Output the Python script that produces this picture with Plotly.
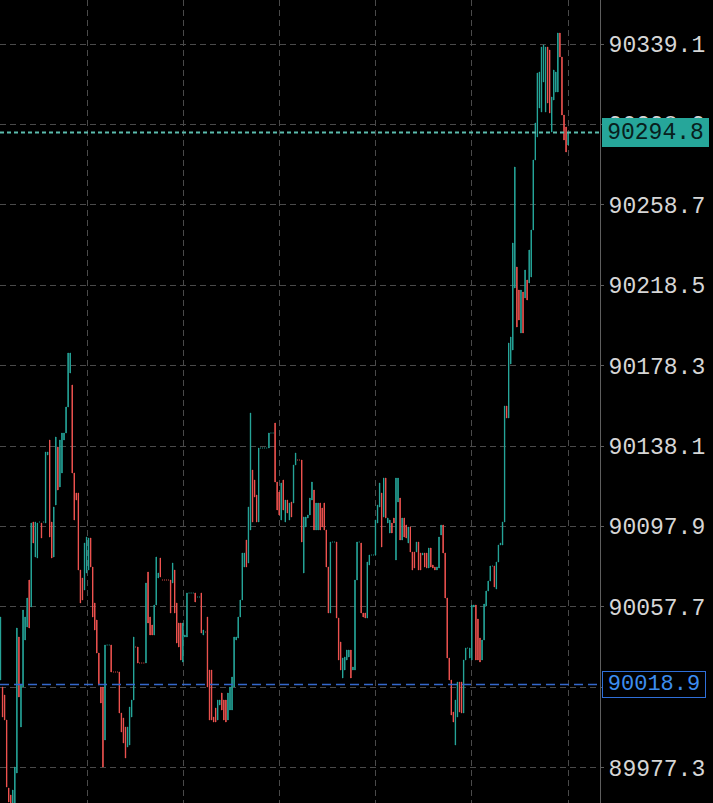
import plotly.graph_objects as go

# ---- data ----
OPEN = [
    90021.1, 90017.6, 90013.6, 90001.1, 89967.1, 89963.6, 89955.1, 89958.6, 89974.6, 90042.6,
    89997.6, 90017.6, 90041.1, 90047.6, 90071.1, 90057.6, 90100.1, 90082.6, 90082.1, 90100.1,
    90099.6, 90100.1, 90099.6, 90133.6, 90141.1, 90100.1, 90082.6, 90108.6, 90137.6, 90117.6,
    90124.6, 90141.1, 90144.6, 90157.6, 90174.6, 90168.6, 90124.6, 90114.6, 90114.6, 90076.1,
    90072.1, 90066.1, 90074.6, 90076.1, 90092.1, 90077.6, 90059.6, 90051.1, 90034.6, 90017.6,
    90017.6, 89991.1, 90038.6, 90038.6, 90038.6, 90025.1, 90025.1, 90025.1, 90025.1, 90004.6,
    90002.1, 89997.6, 89987.6, 89988.6, 90002.6, 90011.1, 90037.6, 90037.6, 90029.6, 90029.6,
    90029.6, 90029.6, 90075.1, 90052.6, 90048.6, 90043.6, 90058.6, 90072.1, 90082.1, 90071.1,
    90071.1, 90071.1, 90071.1, 90071.1, 90069.6, 90076.1, 90059.6, 90049.6, 90049.6, 90030.1,
    90042.6, 90042.6, 90064.6, 90064.6, 90064.6, 90064.6, 90062.6, 90062.6, 90064.6, 90043.6,
    90045.1,
    90052.6, 90026.1, 90026.1, 90002.6, 90007.1, 90001.1, 90008.6, 90014.6, 90011.1, 90011.1,
    90001.1, 90006.1, 90006.1, 90017.6, 90041.1, 90042.1, 90052.6, 90061.1, 90077.6, 90091.1,
    90079.6, 90096.1, 90126.1, 90121.1, 90113.6, 90100.1, 90137.1, 90137.1, 90137.1, 90137.1,
    90137.1, 90144.6, 90144.6, 90149.6, 90120.1, 90115.1, 90101.1, 90121.1, 90100.1, 90111.1,
    90101.1, 90110.1, 90109.6, 90128.6, 90131.1, 90131.1, 90131.1, 90074.6, 90097.6, 90102.1,
    90103.6, 90111.1, 90116.1, 90096.1, 90096.1, 90109.6, 90107.1, 90109.6, 90096.1, 90077.6,
    90054.6, 90090.1, 90090.1, 90090.1, 90052.1, 90040.1, 90022.1, 90026.1, 90031.1, 90032.6,
    90036.1, 90026.1, 90026.1, 90071.1, 90090.1, 90089.6, 90054.6, 90054.6, 90052.1, 90078.6,
    90083.6, 90083.6, 90083.6, 90099.6, 90107.6, 90114.6, 90102.6, 90122.1, 90099.6, 90094.6,
    90099.6, 90102.1, 90081.1, 90110.1, 90112.1, 90091.1, 90102.1, 90098.6, 90089.6, 90097.6,
    90085.1, 90085.1, 90085.1, 90090.1, 90084.6, 90083.6, 90084.6, 90084.6, 90077.1, 90087.1,
    90078.6, 90077.6, 90076.1, 90077.1, 90093.6, 90098.6, 90084.6, 90062.1, 90032.1, 90021.1,
    90005.1, 89988.6, 90002.6, 90020.1, 90020.1, 90004.6, 90031.1, 90037.1, 90032.1, 90031.1,
    90057.6, 90058.6, 90051.6, 90042.1, 90031.1, 90041.1, 90058.1, 90065.6, 90070.6, 90078.1,
    90078.1, 90066.6, 90080.1, 90088.6, 90088.6, 90100.1, 90158.1, 90152.1, 90179.1, 90186.1,
    90217.1, 90227.6, 90216.1, 90194.6, 90215.1, 90212.1, 90221.1, 90219.6, 90222.6, 90246.1,
    90281.1, 90292.6, 90307.1, 90305.1, 90320.1, 90305.1, 90337.6, 90336.1, 90295.1, 90311.1,
    90315.1, 90315.1, 90344.6, 90332.6, 90303.6, 90297.6, 90288.6,
]

HIGH = [
    90052.6, 90017.6, 90013.6, 90001.1, 89967.1, 89963.6, 89966.1, 89977.6, 90047.1, 90042.6,
    90018.6, 90056.1, 90052.6, 90062.1, 90071.1, 90099.6, 90100.1, 90100.1, 90099.6, 90100.1,
    90099.6, 90100.1, 90135.1, 90135.1, 90141.1, 90100.1, 90107.6, 90142.6, 90137.6, 90141.1,
    90144.6, 90144.6, 90157.6, 90184.6, 90184.6, 90168.6, 90124.6, 90114.6, 90114.6, 90076.1,
    90072.1, 90089.6, 90092.6, 90092.1, 90092.1, 90077.6, 90059.6, 90051.1, 90034.6, 90017.6,
    90017.6, 90038.6, 90038.6, 90038.6, 90038.6, 90025.1, 90025.1, 90025.1, 90025.1, 90004.6,
    90002.1, 89997.6, 89997.6, 90007.6, 90011.1, 90042.6, 90037.6, 90037.6, 90029.6, 90029.6,
    90029.6, 90069.6, 90075.1, 90052.6, 90048.6, 90058.6, 90082.6, 90074.6, 90082.1, 90071.1,
    90071.1, 90071.1, 90071.1, 90071.1, 90079.6, 90076.1, 90059.6, 90049.6, 90049.6, 90049.6,
    90043.6, 90064.6, 90064.6, 90064.6, 90064.6, 90064.6, 90062.6, 90062.6, 90064.6, 90046.1,
    90045.1,
    90052.6, 90026.1, 90026.1, 90002.6, 90007.1, 90011.1, 90011.1, 90014.6, 90011.1, 90011.1,
    90014.6, 90017.6, 90022.6, 90042.6, 90042.6, 90052.6, 90061.1, 90084.6, 90084.6, 90091.1,
    90107.6, 90154.6, 90126.1, 90121.1, 90113.6, 90137.1, 90137.1, 90137.1, 90137.1, 90137.1,
    90144.6, 90144.6, 90144.6, 90149.6, 90120.1, 90115.1, 90119.6, 90121.1, 90111.1, 90111.1,
    90109.6, 90110.1, 90128.6, 90134.6, 90131.1, 90131.1, 90131.1, 90102.6, 90102.6, 90103.6,
    90112.1, 90120.1, 90116.1, 90109.6, 90109.6, 90109.6, 90107.1, 90109.6, 90096.1, 90077.6,
    90090.1, 90090.1, 90090.1, 90090.1, 90052.1, 90040.1, 90032.1, 90032.6, 90036.1, 90036.1,
    90036.1, 90027.6, 90071.1, 90090.1, 90090.1, 90089.6, 90054.6, 90054.6, 90080.1, 90083.6,
    90083.6, 90083.6, 90101.1, 90108.6, 90119.6, 90114.6, 90122.1, 90122.1, 90102.1, 90101.1,
    90099.6, 90102.1, 90122.1, 90122.1, 90112.1, 90102.1, 90102.1, 90098.6, 90097.6, 90097.6,
    90085.1, 90085.1, 90090.1, 90090.1, 90084.6, 90084.6, 90084.6, 90084.6, 90087.1, 90087.1,
    90078.6, 90077.6, 90077.6, 90092.6, 90098.6, 90098.6, 90084.6, 90062.1, 90032.1, 90021.1,
    90005.1, 90011.1, 90020.1, 90020.1, 90020.1, 90031.1, 90037.1, 90037.1, 90037.1, 90058.6,
    90058.6, 90058.6, 90051.6, 90042.1, 90041.1, 90059.1, 90065.6, 90070.6, 90078.1, 90078.1,
    90078.1, 90080.1, 90088.6, 90089.6, 90100.1, 90158.1, 90158.1, 90189.6, 90192.6, 90239.6,
    90277.6, 90227.6, 90216.1, 90216.1, 90215.1, 90226.1, 90221.1, 90236.1, 90246.1, 90281.1,
    90299.6, 90324.6, 90325.1, 90337.6, 90338.6, 90337.6, 90337.6, 90336.1, 90312.6, 90326.1,
    90325.1, 90344.6, 90344.6, 90332.6, 90303.6, 90297.6, 90294.8,
]

LOW = [
    90021.1, 90002.6, 90001.1, 89967.6, 89960.1, 89953.6, 89955.1, 89958.6, 89974.6, 90012.6,
    89997.6, 90017.6, 90041.1, 90047.6, 90047.1, 90057.6, 90089.6, 90082.6, 90082.1, 90100.1,
    90092.1, 90100.1, 90099.6, 90133.6, 90092.6, 90082.1, 90082.6, 90108.6, 90116.1, 90117.6,
    90124.6, 90141.1, 90144.6, 90157.6, 90174.6, 90124.6, 90101.1, 90111.1, 90076.1, 90059.6,
    90061.1, 90066.1, 90074.6, 90076.1, 90077.6, 90052.6, 90046.1, 90034.6, 90018.6, 90009.6,
    89977.6, 89991.1, 90038.6, 90038.6, 90025.1, 90025.1, 90025.1, 90025.1, 90004.6, 89995.1,
    89989.6, 89982.1, 89987.6, 89988.6, 90002.6, 90011.1, 90037.6, 90029.6, 90029.6, 90029.6,
    90029.6, 90029.6, 90049.6, 90043.6, 90043.6, 90043.6, 90058.6, 90072.1, 90072.6, 90071.1,
    90071.1, 90071.1, 90071.1, 90054.6, 90069.6, 90054.6, 90039.6, 90037.6, 90031.1, 90030.1,
    90042.6, 90042.6, 90064.6, 90064.6, 90064.6, 90060.1, 90062.6, 90062.6, 90044.6, 90043.6,
    90045.1,
    90017.6, 90001.1, 90001.1, 90000.1, 90000.1, 90001.1, 90008.6, 90006.1, 90001.1, 90000.1,
    90001.1, 90006.1, 90006.1, 90017.6, 90041.1, 90042.1, 90052.6, 90061.1, 90077.6, 90077.6,
    90079.6, 90096.1, 90100.1, 90112.6, 90100.1, 90100.1, 90137.1, 90137.1, 90137.1, 90137.1,
    90137.1, 90144.6, 90144.6, 90120.1, 90106.1, 90103.6, 90101.1, 90106.1, 90100.1, 90104.6,
    90101.1, 90102.6, 90109.6, 90128.6, 90131.1, 90131.1, 90090.1, 90074.6, 90097.6, 90102.1,
    90103.6, 90111.1, 90096.1, 90096.1, 90096.1, 90096.1, 90097.6, 90096.1, 90077.6, 90054.6,
    90054.6, 90090.1, 90090.1, 90052.1, 90031.1, 90026.1, 90022.1, 90026.1, 90031.1, 90032.6,
    90022.1, 90026.1, 90026.1, 90071.1, 90090.1, 90054.6, 90052.6, 90052.1, 90052.1, 90078.6,
    90083.6, 90083.6, 90083.6, 90099.6, 90107.6, 90087.6, 90102.6, 90102.1, 90099.6, 90094.6,
    90094.6, 90099.6, 90081.1, 90110.1, 90091.1, 90091.1, 90092.6, 90092.1, 90089.6, 90085.1,
    90076.1, 90077.1, 90085.1, 90076.1, 90076.1, 90083.6, 90077.6, 90077.1, 90077.1, 90077.6,
    90077.1, 90076.1, 90076.1, 90077.1, 90093.6, 90084.6, 90062.1, 90032.1, 90021.1, 90003.6,
    90000.1, 89988.6, 90002.6, 90005.1, 90004.6, 90004.6, 90031.1, 90037.1, 90032.1, 90031.1,
    90057.6, 90031.1, 90031.1, 90030.1, 90031.1, 90041.1, 90058.1, 90065.6, 90070.6, 90078.1,
    90067.6, 90066.6, 90080.1, 90088.6, 90088.6, 90100.1, 90152.1, 90152.1, 90179.1, 90186.1,
    90217.1, 90197.6, 90201.1, 90194.6, 90194.6, 90212.1, 90211.1, 90219.6, 90222.6, 90246.1,
    90281.1, 90292.6, 90307.1, 90305.1, 90320.1, 90305.1, 90309.6, 90304.6, 90295.1, 90311.1,
    90315.1, 90315.1, 90332.6, 90303.6, 90291.1, 90285.1, 90288.6,
]

CLOSE = [
    90052.6, 90002.6, 90001.1, 89967.6, 89960.1, 89953.6, 89966.1, 89977.6, 90047.1, 90012.6,
    90018.6, 90056.1, 90052.6, 90062.1, 90047.1, 90099.6, 90089.6, 90100.1, 90099.6, 90100.1,
    90092.1, 90100.1, 90135.1, 90135.1, 90092.6, 90082.1, 90107.6, 90142.6, 90116.1, 90141.1,
    90144.6, 90144.6, 90157.6, 90184.6, 90184.6, 90124.6, 90101.1, 90111.1, 90076.1, 90059.6,
    90061.1, 90089.6, 90092.6, 90092.1, 90077.6, 90052.6, 90046.1, 90034.6, 90018.6, 90009.6,
    89977.6, 90038.6, 90038.6, 90038.6, 90025.1, 90025.1, 90025.1, 90025.1, 90004.6, 89995.1,
    89989.6, 89982.1, 89997.6, 90007.6, 90011.1, 90042.6, 90037.6, 90029.6, 90029.6, 90029.6,
    90029.6, 90069.6, 90049.6, 90043.6, 90043.6, 90058.6, 90082.6, 90074.6, 90072.6, 90071.1,
    90071.1, 90071.1, 90071.1, 90054.6, 90079.6, 90054.6, 90039.6, 90037.6, 90031.1, 90049.6,
    90043.6, 90064.6, 90064.6, 90064.6, 90064.6, 90060.1, 90062.6, 90062.6, 90044.6, 90046.1,
    90045.1,
    90017.6, 90001.1, 90001.1, 90000.1, 90000.1, 90011.1, 90011.1, 90006.1, 90001.1, 90000.1,
    90014.6, 90017.6, 90022.6, 90042.6, 90042.6, 90052.6, 90061.1, 90084.6, 90084.6, 90077.6,
    90107.6, 90154.6, 90100.1, 90112.6, 90100.1, 90137.1, 90137.1, 90137.1, 90137.1, 90137.1,
    90144.6, 90144.6, 90144.6, 90120.1, 90106.1, 90103.6, 90119.6, 90106.1, 90111.1, 90104.6,
    90109.6, 90102.6, 90128.6, 90134.6, 90131.1, 90131.1, 90090.1, 90102.6, 90102.6, 90103.6,
    90112.1, 90120.1, 90096.1, 90109.6, 90109.6, 90096.1, 90097.6, 90096.1, 90077.6, 90054.6,
    90090.1, 90090.1, 90090.1, 90052.1, 90031.1, 90026.1, 90032.1, 90032.6, 90036.1, 90036.1,
    90022.1, 90027.6, 90071.1, 90090.1, 90090.1, 90054.6, 90052.6, 90052.1, 90080.1, 90083.6,
    90083.6, 90083.6, 90101.1, 90108.6, 90119.6, 90087.6, 90122.1, 90102.1, 90102.1, 90101.1,
    90094.6, 90099.6, 90122.1, 90122.1, 90091.1, 90102.1, 90092.6, 90092.1, 90097.6, 90085.1,
    90076.1, 90077.1, 90090.1, 90076.1, 90076.1, 90084.6, 90077.6, 90077.1, 90087.1, 90077.6,
    90077.1, 90076.1, 90077.6, 90092.6, 90098.6, 90084.6, 90062.1, 90032.1, 90021.1, 90003.6,
    90000.1, 90011.1, 90020.1, 90005.1, 90004.6, 90031.1, 90037.1, 90037.1, 90037.1, 90058.6,
    90058.6, 90031.1, 90031.1, 90030.1, 90041.1, 90059.1, 90065.6, 90070.6, 90078.1, 90078.1,
    90067.6, 90080.1, 90088.6, 90089.6, 90100.1, 90158.1, 90152.1, 90189.6, 90192.6, 90239.6,
    90277.6, 90197.6, 90201.1, 90216.1, 90194.6, 90226.1, 90211.1, 90236.1, 90246.1, 90281.1,
    90299.6, 90324.6, 90325.1, 90337.6, 90338.6, 90337.6, 90309.6, 90304.6, 90312.6, 90326.1,
    90325.1, 90344.6, 90332.6, 90303.6, 90291.1, 90285.1, 90294.8,
]

Y_TICKS = [89977.3, 90017.5, 90057.7, 90097.9, 90138.1, 90178.3, 90218.5, 90258.7, 90298.9, 90339.1]
LAST_PRICE = 90294.8
REF_PRICE = 90018.9

# ---- styling ----
UP = "#26a69a"
DOWN = "#ef5350"
GRID = "#4a4a4a"
FONT = "Liberation Mono, DejaVu Sans Mono, monospace"

n = len(OPEN)
X = list(range(n))

# the tick hidden under the reference-price box shows no text in the reference
tick_text = ["" if abs(v - REF_PRICE) < 5 else f"{v:.1f}" for v in Y_TICKS]

fig = go.Figure(
    go.Candlestick(
        x=X, open=OPEN, high=HIGH, low=LOW, close=CLOSE,
        increasing=dict(line=dict(color=UP, width=1), fillcolor=UP),
        decreasing=dict(line=dict(color=DOWN, width=1), fillcolor=DOWN),
        whiskerwidth=0,
        hoverinfo="skip",
    )
)

fig.update_layout(
    width=713, height=803,
    margin=dict(l=0, r=113, t=0, b=0),
    paper_bgcolor="#000000", plot_bgcolor="#000000",
    showlegend=False,
    boxgap=0.75,
    xaxis=dict(
        range=[-0.244, 292.56],
        rangeslider=dict(visible=False),
        showticklabels=False, ticks="",
        showgrid=True, gridcolor=GRID, gridwidth=1, griddash="6px,4px",
        tickmode="linear", tick0=42.22, dtick=46.95,
        zeroline=False, showline=False, automargin=False,
    ),
    yaxis=dict(
        side="right",
        range=[89959.6, 90361.1],
        tickmode="array",
        tickvals=Y_TICKS,
        ticktext=tick_text,
        tickfont=dict(family=FONT, size=23, color="#d6d6d6"),
        ticks="outside", ticklen=3, tickcolor="#5e5e5e", tickwidth=1,
        showgrid=True, gridcolor=GRID, gridwidth=1, griddash="6px,4px",
        showline=True, linecolor="#5e5e5e", linewidth=1,
        zeroline=False, automargin=False,
    ),
    shapes=[
        dict(type="line", xref="paper", x0=0, x1=1, yref="y", y0=LAST_PRICE, y1=LAST_PRICE,
             line=dict(color="#5bbcad", width=2, dash="4px,3px"), layer="above"),
        dict(type="line", xref="paper", x0=0, x1=1, yref="y", y0=REF_PRICE, y1=REF_PRICE,
             line=dict(color="#3468cc", width=1.5, dash="9px,5px"), layer="above"),
    ],
    annotations=[
        dict(xref="paper", x=1, xanchor="left", xshift=2,
             yref="y", y=LAST_PRICE, yanchor="middle",
             text=f"{LAST_PRICE:.1f}", showarrow=False,
             font=dict(family=FONT, size=23, color="#08201d"),
             bgcolor="#26a69a", borderpad=1, borderwidth=0,
             width=105, height=27, align="center"),
        dict(xref="paper", x=1, xanchor="left", xshift=2,
             yref="y", y=REF_PRICE, yanchor="middle",
             text=f"{REF_PRICE:.1f}", showarrow=False,
             font=dict(family=FONT, size=22, color="#3d8ef0"),
             bgcolor="#000000", bordercolor="#2f6fd8", borderpad=1, borderwidth=1,
             width=100, height=23, align="center"),
    ],
)

fig.write_html(
    "out.html",
    config={"displayModeBar": False},
    post_script="document.body.style.margin='0';document.body.style.background='#000';",
)
